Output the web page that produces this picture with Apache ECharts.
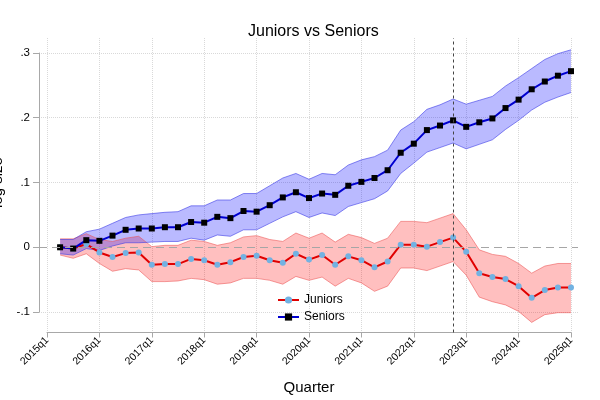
<!DOCTYPE html>
<html>
<head>
    <meta charset="utf-8">
    <title>Juniors vs Seniors</title>
    <script src="https://cdn.jsdelivr.net/npm/echarts@6/dist/echarts.min.js"></script>
    <style>
        html, body { margin: 0; padding: 0; background: #fff; }
        #main { width: 600px; height: 400px; }
    </style>
</head>
<body>
<div id="main"></div>
<script>
    // x axis: every quarter, 2015q1 .. 2025q1 (labels shown every 4th)
    var quarters = [
        '2015q1', '2015q2', '2015q3', '2015q4', '2016q1', '2016q2', '2016q3', '2016q4',
        '2017q1', '2017q2', '2017q3', '2017q4', '2018q1', '2018q2', '2018q3', '2018q4',
        '2019q1', '2019q2', '2019q3', '2019q4', '2020q1', '2020q2', '2020q3', '2020q4',
        '2021q1', '2021q2', '2021q3', '2021q4', '2022q1', '2022q2', '2022q3', '2022q4',
        '2023q1', '2023q2', '2023q3', '2023q4', '2024q1', '2024q2', '2024q3', '2024q4',
        '2025q1'
    ];
    var firstQuarter = '2015q2';   // first estimated point
    var eventQuarter = '2022q4';   // vertical dashed line

    var yTickValues = [-0.1, 0, 0.1, 0.2, 0.3];
    var yTickLabels = ['-.1', '0', '.1', '.2', '.3'];

    // Juniors: point estimate and confidence band
    var juniorMean = [
        0.000, -0.002, 0.005, -0.008, -0.015, -0.009, -0.008, -0.027, -0.026, -0.026,
        -0.018, -0.020, -0.027, -0.023, -0.015, -0.013, -0.020, -0.024, -0.010, -0.019,
        -0.012, -0.027, -0.014, -0.020, -0.031, -0.022, 0.004, 0.004, 0.001, 0.008,
        0.015, -0.007, -0.040, -0.046, -0.049, -0.060, -0.078, -0.066, -0.062, -0.062
    ];
    var juniorUpper = [
        0.013, 0.013, 0.021, 0.012, 0.009, 0.014, 0.017, 0.001, 0.003, 0.003,
        0.011, 0.009, 0.003, 0.007, 0.016, 0.018, 0.012, 0.009, 0.022, 0.014,
        0.022, 0.008, 0.020, 0.015, 0.006, 0.014, 0.040, 0.040, 0.038, 0.045,
        0.052, 0.027, -0.004, -0.011, -0.014, -0.025, -0.040, -0.029, -0.025, -0.025
    ];
    var juniorLower = [
        -0.012, -0.017, -0.010, -0.025, -0.037, -0.033, -0.035, -0.053, -0.053, -0.052,
        -0.048, -0.050, -0.057, -0.055, -0.048, -0.048, -0.051, -0.057, -0.045, -0.051,
        -0.046, -0.060, -0.048, -0.055, -0.068, -0.060, -0.032, -0.032, -0.036, -0.029,
        -0.022, -0.043, -0.077, -0.084, -0.089, -0.099, -0.116, -0.104, -0.101, -0.101
    ];

    // Seniors: point estimate and confidence band
    var seniorMean = [
        0.000, -0.002, 0.011, 0.010, 0.018, 0.027, 0.029, 0.029, 0.031, 0.031,
        0.039, 0.038, 0.047, 0.045, 0.056, 0.055, 0.065, 0.077, 0.085, 0.076,
        0.083, 0.081, 0.095, 0.101, 0.107, 0.119, 0.146, 0.160, 0.181, 0.188,
        0.196, 0.186, 0.193, 0.199, 0.215, 0.228, 0.244, 0.256, 0.265, 0.272
    ];
    var seniorUpper = [
        0.012, 0.012, 0.024, 0.028, 0.037, 0.046, 0.050, 0.052, 0.054, 0.055,
        0.064, 0.064, 0.073, 0.073, 0.083, 0.083, 0.095, 0.107, 0.114, 0.105,
        0.114, 0.112, 0.127, 0.135, 0.140, 0.150, 0.181, 0.194, 0.213, 0.220,
        0.229, 0.221, 0.227, 0.233, 0.249, 0.262, 0.276, 0.290, 0.299, 0.305
    ];
    var seniorLower = [
        -0.010, -0.012, -0.002, -0.005, 0.002, 0.007, 0.007, 0.008, 0.009, 0.009,
        0.014, 0.011, 0.019, 0.017, 0.027, 0.027, 0.037, 0.047, 0.055, 0.046,
        0.053, 0.049, 0.063, 0.069, 0.075, 0.087, 0.114, 0.130, 0.147, 0.154,
        0.161, 0.152, 0.159, 0.166, 0.182, 0.196, 0.212, 0.224, 0.232, 0.239
    ];

    var start = quarters.indexOf(firstQuarter);
    function pairs(vals) {
        return vals.map(function (v, i) { return [quarters[start + i], v]; });
    }
    function diffs(hi, lo) {
        return pairs(hi.map(function (v, i) { return +(v - lo[i]).toFixed(4); }));
    }

    var font = "'Liberation Sans', Arial, Helvetica, sans-serif";
    var gridColor = '#d9d9d9';
    var axisColor = '#a8a8a8';
    // no dotted grid line at 0: the dashed reference line sits there
    var hGridColors = yTickValues.map(function (v) { return v === 0 ? 'rgba(0,0,0,0)' : gridColor; });

    function band(stackId, data, lineColor, fill) {
        return {
            type: 'line', stack: stackId, stackStrategy: 'all',
            xAxisIndex: 0, yAxisIndex: 0,
            data: data, symbol: 'none', silent: true, z: 1,
            lineStyle: { color: lineColor, width: 1 },
            areaStyle: fill ? { color: fill, opacity: 1 } : undefined
        };
    }

    var chart = echarts.init(document.getElementById('main'), null, { renderer: 'canvas' });
    var option = {
        animation: false,
        backgroundColor: '#fff',
        textStyle: { fontFamily: font },
        title: {
            text: 'Juniors vs Seniors',
            left: 243, top: 19,
            textStyle: { fontFamily: font, fontSize: 16, fontWeight: 'normal', color: '#000' }
        },
        legend: {
            data: ['Juniors', 'Seniors'],
            orient: 'vertical',
            left: 272, top: 289,
            itemWidth: 21, itemHeight: 9, itemGap: 5,
            textStyle: { fontFamily: font, fontSize: 12, color: '#000' }
        },
        grid: [
            // data grid: x from 2015q1 to 2025q1, full plot height
            { left: 47, right: 29, top: 38, bottom: 67.5, outerBoundsMode: 'none', containLabel: false },
            // y axis grid: .3 .. -.1, wide for horizontal grid lines
            { left: 39, right: 22, top: 53, bottom: 88, outerBoundsMode: 'none', containLabel: false }
        ],
        xAxis: [
            {
                type: 'category', gridIndex: 0, data: quarters, boundaryGap: false,
                name: 'Quarter', nameLocation: 'middle', nameGap: 48,
                nameTextStyle: { fontFamily: font, fontSize: 15, color: '#000' },
                axisLine: { onZero: false, lineStyle: { color: axisColor, width: 1 } },
                axisTick: { interval: 3, length: 5, lineStyle: { color: axisColor } },
                axisLabel: { interval: 3, rotate: 45, margin: 6, fontSize: 10.5, color: '#000', fontFamily: font },
                splitLine: { show: true, interval: 3, lineStyle: { color: gridColor, type: 'dotted', width: 1 } }
            },
            { type: 'value', gridIndex: 1, min: 0, max: 1, show: false }
        ],
        yAxis: [
            { type: 'value', gridIndex: 0, min: -0.1316, max: 0.3232, show: false, splitLine: { show: false } },
            {
                type: 'value', gridIndex: 1, min: -0.1, max: 0.3, interval: 0.1,
                name: 'log size', nameLocation: 'middle', nameRotate: 90, nameGap: 33,
                nameTextStyle: { fontFamily: font, fontSize: 15, color: '#000' },
                axisLine: { show: true, lineStyle: { color: axisColor, width: 1 } },
                axisTick: { show: true, length: 6, lineStyle: { color: axisColor } },
                axisLabel: {
                    margin: 9, fontSize: 11.5, color: '#000', fontFamily: font,
                    formatter: function (v) {
                        for (var i = 0; i < yTickValues.length; i++) {
                            if (Math.abs(yTickValues[i] - v) < 1e-9) return yTickLabels[i];
                        }
                        return '';
                    }
                },
                splitLine: { show: true, lineStyle: { color: hGridColors, type: 'dotted', width: 1 } }
            }
        ],
        series: [
            // zero reference line across the whole plot
            {
                type: 'line', xAxisIndex: 1, yAxisIndex: 1, data: [], silent: true,
                markLine: {
                    silent: true, symbol: ['none', 'none'], label: { show: false },
                    lineStyle: { color: '#a6a6a6', type: [8, 5], width: 1 },
                    data: [{ yAxis: 0 }]
                }
            },
            band('jr', pairs(juniorLower), 'rgba(235,80,80,0.55)'),
            band('jr', diffs(juniorUpper, juniorLower), 'rgba(235,80,80,0.55)', 'rgba(255,0,0,0.25)'),
            band('sr', pairs(seniorLower), 'rgba(60,60,230,0.6)'),
            band('sr', diffs(seniorUpper, seniorLower), 'rgba(60,60,230,0.6)', 'rgba(0,0,255,0.27)'),
            {
                name: 'Juniors', type: 'line', xAxisIndex: 0, yAxisIndex: 0,
                data: pairs(juniorMean), z: 3,
                symbol: 'circle', symbolSize: 6,
                lineStyle: { color: '#e00000', width: 2 },
                itemStyle: { color: '#72b2e2' },
                markLine: {
                    silent: true, symbol: ['none', 'none'], label: { show: false },
                    lineStyle: { color: '#444', type: [3, 3], width: 1 },
                    data: [{ xAxis: eventQuarter }]
                }
            },
            {
                name: 'Seniors', type: 'line', xAxisIndex: 0, yAxisIndex: 0,
                data: pairs(seniorMean), z: 4,
                symbol: 'rect', symbolSize: 6,
                lineStyle: { color: '#0000d0', width: 2 },
                itemStyle: { color: '#000' }
            }
        ]
    };
    chart.setOption(option);
</script>
</body>
</html>
